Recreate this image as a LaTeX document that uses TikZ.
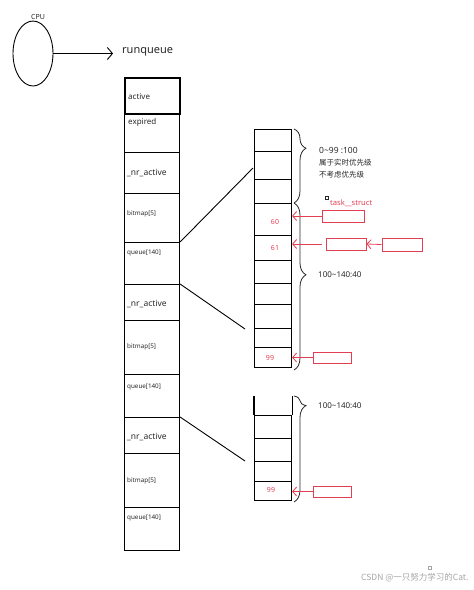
\documentclass[tikz,border=0pt]{standalone}
\usepackage{fontspec}
\setmainfont{Noto Sans}
\newfontfamily\cjk{Noto Sans CJK SC}
\usetikzlibrary{arrows.meta,decorations.pathreplacing,shapes.geometric}
\definecolor{rd}{RGB}{228,62,82}
\definecolor{wm}{RGB}{165,165,165}
\definecolor{tx}{RGB}{40,40,40}
\begin{document}
\begin{tikzpicture}[x=1pt,y=-1pt,
  mcell/.style={draw, line width=1.1pt, minimum width=55pt, inner sep=0pt, anchor=north west},
  rcell/.style={draw, line width=1.1pt, minimum width=37pt, inner sep=0pt, anchor=north west},
  lbl/.style={anchor=west, inner sep=0pt, text=tx},
  rbox/.style={draw=rd, line width=1pt, minimum width=40pt, minimum height=12pt, inner sep=0pt},
  rarr/.style={draw=rd, line width=0.8pt, -{Straight Barb[length=4pt,width=9pt]}},
  conn/.style={line width=0.9pt},
  brc/.style={line width=0.8pt, draw=tx, decorate},
  rnum/.style={text=rd, inner sep=0pt, font=\fontsize{7}{8}\selectfont}
]
\useasboundingbox (0,0) rectangle (474,590);

% CPU and runqueue
\node[draw, ellipse, line width=0.9pt, minimum width=40pt, minimum height=65pt, inner sep=0pt] (cpu) at (33,53.5) {};
\node[inner sep=0pt, text=tx, font=\fontsize{7}{8}\selectfont] (cpul) at (38,17) {CPU};
\node[lbl, font=\fontsize{11}{12}\selectfont] (rq) at (122,52) {runqueue};
\draw[line width=0.9pt, -{Straight Barb[length=5pt,width=12pt]}, shorten >=9pt] (cpu.east) -- (cpu.east -| rq.west);

% main column
\node[mcell, minimum height=36pt, line width=1.6pt] (m1) at (124,77) {};
\node[mcell, minimum height=39pt] (m2) at (124,113) {};
\node[mcell, minimum height=41pt] (m3) at (124,152) {};
\node[mcell, minimum height=49pt] (m4) at (124,193) {};
\node[mcell, minimum height=42pt] (m5) at (124,242) {};
\node[mcell, minimum height=36pt] (m6) at (124,284) {};
\node[mcell, minimum height=54pt] (m7) at (124,320) {};
\node[mcell, minimum height=43pt] (m8) at (124,374) {};
\node[mcell, minimum height=36pt] (m9) at (124,417) {};
\node[mcell, minimum height=54pt] (m10) at (124,453) {};
\node[mcell, minimum height=43pt] (m11) at (124,507) {};

\node[lbl, font=\fontsize{8}{9}\selectfont] (t1) at (128,97) {active};
\node[lbl, font=\fontsize{8}{9}\selectfont] (t2) at (128,122) {expired};
\node[lbl, font=\fontsize{8.5}{9}\selectfont] (t3) at (127,173) {\_nr\_active};
\node[lbl, font=\fontsize{6.3}{7}\selectfont] (t4) at (127,214) {bitmap[5]};
\node[lbl, font=\fontsize{6.3}{7}\selectfont] (t5) at (127,253) {queue[140]};
\node[lbl, font=\fontsize{8.5}{9}\selectfont] (t6) at (127,304) {\_nr\_active};
\node[lbl, font=\fontsize{6.3}{7}\selectfont] (t7) at (127,347) {bitmap[5]};
\node[lbl, font=\fontsize{6.3}{7}\selectfont] (t8) at (127,387) {queue[140]};
\node[lbl, font=\fontsize{8.5}{9}\selectfont] (t9) at (127,437) {\_nr\_active};
\node[lbl, font=\fontsize{6.3}{7}\selectfont] (t10) at (127,481) {bitmap[5]};
\node[lbl, font=\fontsize{6.3}{7}\selectfont] (t11) at (127,518) {queue[140]};

% right column 1
\node[rcell, minimum height=22pt] (r1) at (254,129) {};
\node[rcell, minimum height=28pt] (r2) at (254,151) {};
\node[rcell, minimum height=24pt] (r3) at (254,179) {};
\node[rcell, minimum height=32pt] (r4) at (254,203) {};
\node[rcell, minimum height=25pt] (r5) at (254,235) {};
\node[rcell, minimum height=23pt] (r6) at (254,260) {};
\node[rcell, minimum height=21pt] (r7) at (254,283) {};
\node[rcell, minimum height=24pt] (r8) at (254,304) {};
\node[rcell, minimum height=19pt] (r9) at (254,328) {};
\node[rcell, minimum height=20pt] (r10) at (254,347) {};

% right column 2
\node[rcell, minimum height=23pt] (s1) at (254,415) {};
\node[rcell, minimum height=23pt] (s2) at (254,438) {};
\node[rcell, minimum height=20pt] (s3) at (254,461) {};
\node[rcell, minimum height=19pt] (s4) at (254,481) {};
\draw[line width=1.1pt] (s1.north west) -- ++(0,-19);
\draw[line width=1.1pt] (s1.north east) -- ++(0,-19);

% connectors
\coordinate (c1) at (253,168);
\coordinate (c2) at (245,329);
\coordinate (c3) at (245,461);
\draw[conn] (m5.north east) -- (c1);
\draw[conn] (m6.north east) -- (c2);
\draw[conn] (m9.north east) -- (c3);

% braces
\draw[brc, decoration={brace, amplitude=12pt, aspect=0.26}] (294,129) -- (294,203);
\draw[brc, decoration={brace, amplitude=12pt, aspect=0.43}] (294,203) -- (294,370);
\draw[brc, decoration={brace, amplitude=12pt, aspect=0.09}] (294,396) -- (294,502);

\node[lbl, font=\fontsize{8.5}{9}\selectfont] (b1) at (319,150) {0\textasciitilde99 :100};
\node[lbl, font=\cjk\fontsize{7.5}{8}\selectfont] (b2) at (319,163) {属于实时优先级};
\node[lbl, font=\cjk\fontsize{7.5}{8}\selectfont] (b3) at (319,175) {不考虑优先级};
\node[lbl, font=\fontsize{8}{9}\selectfont] (b4) at (318,275) {100\textasciitilde140:40};
\node[lbl, font=\fontsize{8}{9}\selectfont] (b5) at (318,406) {100\textasciitilde140:40};

% red parts
\node[anchor=west, inner sep=0pt, text=rd, font=\fontsize{7.6}{8}\selectfont] (ts) at (330,203) {task\_\_struct};
\draw[line width=0.4pt, draw=tx] (325.5,196.5) rectangle (328.5,199.5);

\node[rnum] (n60) at (275,222) {60};
\node[rnum] (n61) at (275,248) {61};
\node[rnum] (n99) at (270,358) {99};
\node[rnum] (n99b) at (271,490) {99};

\node[rbox, minimum width=42pt] (rb1) at (343,216) {};
\node[rbox] (rb2) at (346,244) {};
\node[rbox, minimum width=40pt, minimum height=13pt] (rb3) at (402,244.5) {};
\node[rbox, minimum width=38pt, minimum height=11pt] (rb4) at (332,357.5) {};
\node[rbox, minimum width=38pt, minimum height=11pt] (rb5) at (332,491.5) {};

\draw[rarr] (rb1.west) -- (rb1.west -| r4.east);
\draw[rarr] ([xshift=-4pt]rb2.west) -- (rb2.west -| r5.east);
\draw[rarr] (rb3.west) -- (rb2.east);
\draw[rarr] (rb4.west) -- (rb4.west -| r10.east);
\draw[rarr] (rb5.west) -- (rb5.west -| s4.east);

% watermark
\draw[line width=0.4pt, draw=wm] (428.5,566.5) rectangle (431.5,569.5);
\node[anchor=west, inner sep=0pt, text=wm, font=\cjk\fontsize{8.5}{9}\selectfont] (wmk) at (361,578) {CSDN @一只努力学习的Cat.};
\end{tikzpicture}
\end{document}
